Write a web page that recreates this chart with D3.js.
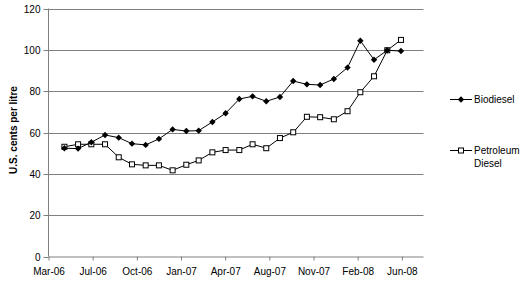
<!DOCTYPE html>
<html>
<head>
<meta charset="utf-8">
<script src="https://cdn.jsdelivr.net/npm/d3@7.9.0/dist/d3.min.js"></script>
<style>
  body { margin: 0; background: #fff; }
  svg { display: block; font-family: "Liberation Sans", Arial, sans-serif; }
</style>
</head>
<body>
<div id="chart"></div>
<script>
// monthly prices, month-end dates Apr-06 .. May-08
const months = [
  '2006-04-30','2006-05-31','2006-06-30','2006-07-31','2006-08-31','2006-09-30',
  '2006-10-31','2006-11-30','2006-12-31','2007-01-31','2007-02-28','2007-03-31',
  '2007-04-30','2007-05-31','2007-06-30','2007-07-31','2007-08-31','2007-09-30',
  '2007-10-31','2007-11-30','2007-12-31','2008-01-31','2008-02-29','2008-03-31',
  '2008-04-30','2008-05-31'
];
const biodiesel = [52.4, 52.2, 55.3, 58.8, 57.5, 54.6, 54.0, 56.9, 61.5, 60.7, 60.9, 65.1, 69.3,
  76.2, 77.5, 75.1, 77.2, 84.9, 83.3, 83.0, 85.9, 91.4, 104.4, 95.2, 99.8, 99.4];
const petroleum = [53.1, 54.3, 54.3, 54.3, 48.0, 44.6, 44.1, 44.1, 41.7, 44.4, 46.5, 50.4, 51.5,
  51.5, 54.3, 52.4, 57.3, 60.1, 67.6, 67.4, 66.4, 70.3, 79.5, 87.2, 99.8, 104.8];
const yTicks = [0, 20, 40, 60, 80, 100, 120];
// axis runs from 25 Mar 2006, ticks every 100 days
const axisStart = '2006-03-25';
const axisDays = 849;
const tickStep = 100;

const width = 522, height = 281;
const plot = { left: 48.5, right: 423.5, top: 8.5, bottom: 256.5 };

const parse = d3.timeParse('%Y-%m-%d');
const dates = months.map(parse);
const start = parse(axisStart);

const svg = d3.select('#chart').append('svg')
  .attr('width', width).attr('height', height);

const x = d3.scaleTime()
  .domain([start, d3.timeDay.offset(start, axisDays)])
  .range([plot.left, plot.right]);
const y = d3.scaleLinear().domain([0, 120]).range([plot.bottom, plot.top]);

const xTicks = d3.range(0, 801, tickStep).map(d => d3.timeDay.offset(start, d));

// gridlines
svg.append('g')
  .selectAll('line')
  .data(yTicks.filter(d => d > 0))
  .join('line')
    .attr('x1', plot.left).attr('x2', plot.right)
    .attr('y1', d => Math.round(y(d)) + 0.5).attr('y2', d => Math.round(y(d)) + 0.5)
    .attr('stroke', '#808080').attr('stroke-width', 1);

// y axis
const yAxis = svg.append('g')
  .attr('transform', `translate(${plot.left},0)`)
  .call(d3.axisLeft(y).tickValues(yTicks).tickSize(5).tickPadding(3));
yAxis.selectAll('.tick').attr('transform', d => `translate(0,${Math.round(y(d)) + 0.5})`);

// x axis
const xAxis = svg.append('g')
  .attr('transform', `translate(0,${plot.bottom})`)
  .call(d3.axisBottom(x).tickValues(xTicks).tickFormat(d3.timeFormat('%b-%y')).tickSize(4).tickPadding(7));

[yAxis, xAxis].forEach(g => {
  g.select('.domain').attr('stroke', '#808080');
  g.selectAll('.tick line').attr('stroke', '#808080');
  g.selectAll('.tick text').attr('font-size', 10).attr('fill', '#000')
    .attr('font-family', '"Liberation Sans", Arial, sans-serif');
});
xAxis.select('.domain').attr('d', `M${plot.left},0.5H${plot.right}`);
yAxis.select('.domain').attr('d', `M0,${plot.top}V${plot.bottom}`);

// axis title
svg.append('text')
  .attr('transform', `translate(17,130) rotate(-90)`)
  .attr('text-anchor', 'middle')
  .attr('font-size', 10).attr('font-weight', 'bold')
  .text('U.S. cents per litre');

const line = d3.line().x(d => x(d[0])).y(d => y(d[1]));
const bioData = dates.map((d, i) => [d, biodiesel[i]]);
const petData = dates.map((d, i) => [d, petroleum[i]]);

function drawSeries(data, marker) {
  const g = svg.append('g');
  g.append('path').datum(data).attr('d', line)
    .attr('fill', 'none').attr('stroke', '#000').attr('stroke-width', 1);
  const m = g.selectAll('g').data(data).join('g')
    .attr('transform', d => `translate(${x(d[0])},${y(d[1])})`);
  marker(m);
}

const diamond = sel => sel.append('path')
  .attr('d', 'M0,-3.2L3.2,0L0,3.2L-3.2,0Z').attr('fill', '#000');
const square = sel => sel.append('rect')
  .attr('x', -2.5).attr('y', -2.5).attr('width', 5).attr('height', 5)
  .attr('fill', '#fff').attr('stroke', '#000').attr('stroke-width', 1);

drawSeries(petData, square);
drawSeries(bioData, diamond);

// legend
const legend = [
  { label: ['Biodiesel'], y: 99.5, marker: diamond },
  { label: ['Petroleum', 'Diesel'], y: 150.5, marker: square }
];
legend.forEach(item => {
  const g = svg.append('g');
  g.append('line').attr('x1', 450).attr('x2', 472).attr('y1', item.y).attr('y2', item.y)
    .attr('stroke', '#000');
  item.marker(g.append('g').attr('transform', `translate(461,${item.y})`));
  const t = g.append('text').attr('x', 474).attr('y', item.y + 3.5).attr('font-size', 10);
  item.label.forEach((s, i) => t.append('tspan').attr('x', 474).attr('dy', i ? 12.5 : 0).text(s));
});
</script>
</body>
</html>
